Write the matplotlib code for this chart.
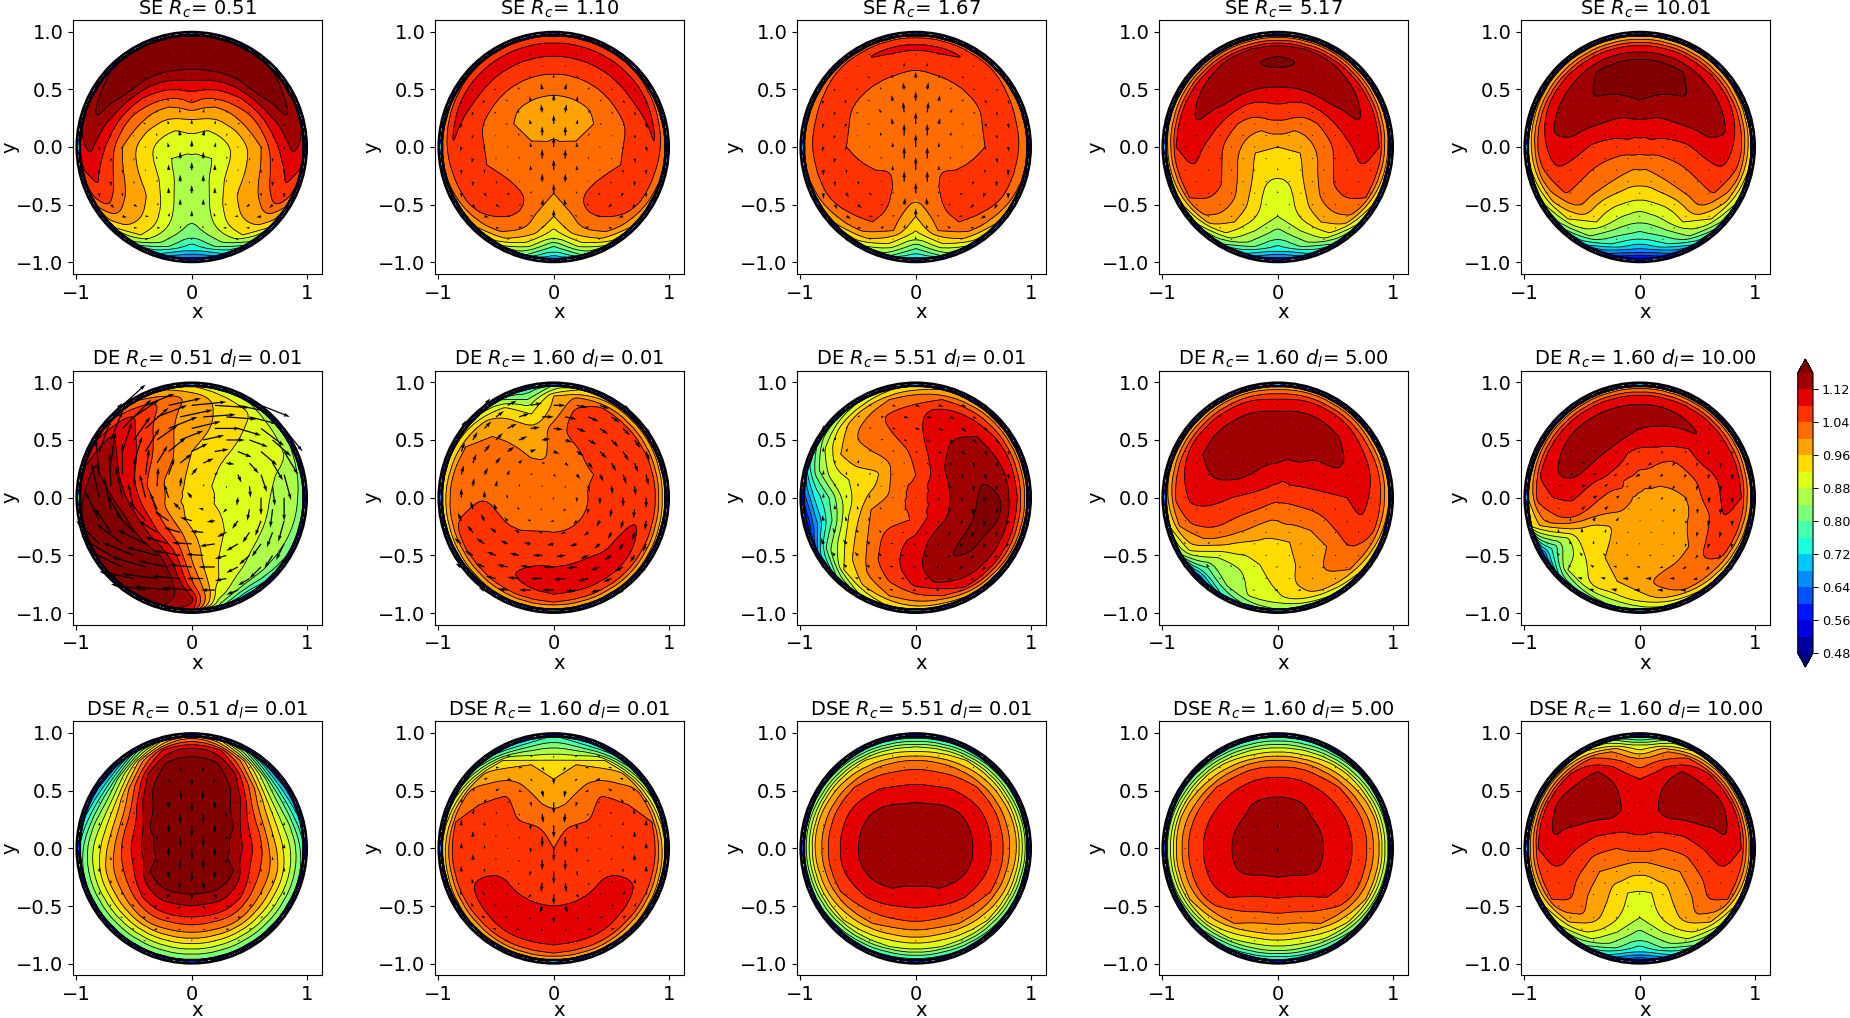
import numpy as np
import matplotlib
matplotlib.use('Agg')
import matplotlib.pyplot as plt
from matplotlib.patches import Circle
from matplotlib.path import Path

# temperature rings, in hundredths, radius 0.2 .. 0.97
# 13 columns: -90..90 deg, mirrored onto the left half
# 24 columns: the whole circle, counter-clockwise from the bottom
RADII = [0.2, 0.4, 0.6, 0.75, 0.88, 0.97]
RIM_RADIUS = 0.985
RIM_VALUE = 40
LEVELS = np.arange(0.48, 1.17, 0.04)

SE_051 = [[86,86,86,87,88,89,90,90,91,92,93,94,94],
          [85,86,90,92,93,93,93,95,97,98,100,102,105],
          [85,88,93,97,98,99,100,103,105,108,110,112,113],
          [81,87,95,98,103,106,108,111,115,118,118,119,119],
          [73,82,92,99,107,109,113,116,118,119,120,120,120],
          [62,70,82,93,102,107,111,113,114,116,117,117,117]]
SE_110 = [[102,102,102,102,102,101,101,100,99,98,98,98,98],
          [100,103,103,103,103,102,102,101,100,99,99,99,99],
          [96,100,105,106,105,104,104,103,103,103,103,103,103],
          [90,99,103,106,107,106,106,106,107,107,107,107,107],
          [78,90,99,103,105,106,108,109,110,110,110,110,110],
          [68,80,90,96,99,100,101,102,103,104,104,104,104]]
SE_167 = [[102,102,102,103,103,103,103,103,103,102,102,102,102],
          [101,102,104,105,104,103,103,103,102,102,102,102,102],
          [96,101,106,106,106,105,104,104,103,103,103,103,103],
          [91,100,104,106,106,106,106,106,106,106,106,106,105],
          [80,91,99,102,104,104,105,105,106,108,108,109,109],
          [70,82,90,95,99,100,101,101,102,103,103,103,103]]
SE_517 = [[93,93,93,94,95,96,97,98,99,100,102,103,103],
          [90,91,95,98,100,101,102,103,104,105,106,108,109],
          [88,92,97,102,105,107,107,109,111,113,114,114,114],
          [82,88,96,102,106,108,110,112,114,115,115,116,118],
          [74,82,91,99,104,106,108,109,110,111,112,112,113],
          [62,70,80,87,92,94,95,96,97,97,98,98,98]]
SE_1001 = [[100,100,101,102,103,105,106,107,109,110,110,111,111],
           [94,95,98,101,103,105,107,110,112,113,114,115,116],
           [86,89,93,100,104,107,111,113,115,116,117,118,118],
           [79,83,92,100,105,108,111,113,114,115,116,117,117],
           [68,75,85,92,98,103,105,107,108,108,109,109,109],
           [55,62,73,82,88,91,93,94,95,96,96,96,96]]

DE_051 = [[95,94,94,93,93,92,92,92,92,93,93,94,94,96,97,98,98,99,99,98,98,98,97,96],
          [98,95,93,92,91,90,90,90,91,91,94,95,96,99,101,102,103,104,106,107,108,107,106,103],
          [101,93,91,90,89,89,89,89,90,91,94,96,98,100,103,107,109,111,113,116,117,118,118,112],
          [105,93,89,87,87,87,87,88,90,91,93,96,98,101,105,109,112,114,118,119,119,119,119,118],
          [113,90,84,84,85,86,86,87,89,90,93,95,99,103,107,111,114,117,119,119,119,119,119,118],
          [110,82,72,78,80,81,82,83,84,86,88,90,92,96,100,104,108,112,115,117,118,118,118,116]]
DE_160 = [[103,103,103,103,103,103,103,103,103,103,102,102,102,102,102,102,102,102,102,102,102,102,102,103],
          [105,105,105,105,105,105,105,105,104,104,103,102,101,99,100,102,102,102,103,103,103,104,105,105],
          [108,108,108,107,107,106,106,106,106,106,106,105,102,97,99,101,102,103,104,105,106,106,107,108],
          [110,110,110,110,110,108,107,106,106,106,106,106,97,92,97,100,101,102,103,105,106,107,108,109],
          [107,107,107,107,106,105,105,105,105,105,105,102,96,84,94,98,100,102,103,104,104,105,106,107],
          [96,96,96,96,95,94,93,94,95,95,95,92,85,76,85,90,92,92,93,93,94,95,96,96]]
DE_551 = [[105,107,108,109,109,110,110,110,109,109,107,106,104,103,103,102,102,101,101,102,102,103,103,104],
          [110,112,114,114,114,114,114,114,114,113,110,108,105,103,101,98,95,95,97,100,102,104,107,108],
          [111,115,116,117,117,117,117,116,115,114,112,110,107,105,102,100,97,92,90,92,96,100,105,108],
          [109,113,115,115,115,116,116,115,113,112,112,111,106,105,103,100,96,90,80,80,90,97,102,105],
          [102,104,109,110,110,109,108,108,108,107,106,104,102,100,98,95,90,83,72,68,82,92,97,100],
          [94,94,96,97,98,98,98,98,98,98,97,96,93,91,88,86,82,74,62,56,70,80,88,92]]
DE_160_D5 = [[100,101,101,102,103,105,106,107,108,109,109,109,110,110,110,110,109,108,106,105,104,102,101,100],
             [95,96,98,100,102,105,107,109,110,111,113,113,114,114,114,114,113,111,108,106,103,100,97,95],
             [94,96,98,100,104,106,108,110,113,114,115,115,115,115,115,115,114,112,109,107,103,95,91,92],
             [93,97,100,102,105,108,109,110,111,112,113,113,112,113,113,113,112,111,109,106,99,87,86,90],
             [91,95,98,100,103,105,106,107,107,108,108,108,107,108,108,108,108,107,105,101,94,78,84,89],
             [84,86,88,91,93,95,96,97,97,98,98,98,97,98,98,97,97,96,95,92,85,65,76,82]]
DE_160_D10 = [[98,98,98,98,98,99,99,99,100,101,101,103,103,104,104,104,105,103,102,102,101,99,98,98],
              [98,98,99,99,99,99,100,101,102,103,105,107,107,108,110,110,109,107,105,103,97,95,97,98],
              [98,98,99,100,102,103,106,106,108,108,110,111,112,114,114,114,114,112,109,105,94,95,96,97],
              [98,102,102,104,106,108,109,109,110,112,113,114,114,114,114,114,113,112,108,103,85,89,95,96],
              [94,98,102,103,105,107,108,109,109,110,110,110,110,110,110,110,110,109,106,98,76,88,92,91],
              [86,89,91,93,94,95,96,97,98,98,98,98,98,98,98,98,98,97,96,92,64,78,82,84]]

DSE_051 = [[120,120,120,120,120,120,120,120,120,120,120,120,120],
           [116,116,117,117,117,113,114,114,117,118,118,118,118],
           [108,108,109,108,106,105,105,104,105,112,118,119,119],
           [99,99,100,99,98,98,95,93,94,101,112,118,119],
           [88,88,88,88,88,88,87,83,80,85,98,111,112],
           [80,80,80,80,80,80,78,72,68,66,78,92,100]]
DSE_160 = [[106,106,106,106,106,105,105,105,105,105,104,103,102],
           [107,107,107,107,107,106,106,106,105,103,101,100,99],
           [109,109,109,109,109,107,107,107,106,105,101,98,96],
           [110,110,110,110,109,107,107,106,104,101,99,96,93],
           [107,107,107,106,106,105,105,104,102,98,92,83,84],
           [97,97,97,96,95,94,93,90,86,80,74,72,77]]
DSE_551 = [[114,114,114,114,114,114,114,114,114,114,114,114,114],
           [111,111,112,113,114,114,114,114,114,114,113,112,112],
           [106,106,107,108,109,110,110,110,110,109,108,107,107],
           [98,98,100,102,104,105,105,105,105,104,103,102,102],
           [88,88,90,92,94,95,96,96,95,94,92,90,88],
           [75,75,77,79,80,81,82,82,80,79,77,75,75]]
DSE_160_D5 = [[113,113,113,114,114,115,115,115,115,115,115,115,115],
              [109,109,110,111,112,112,112,112,112,112,113,113,113],
              [103,103,105,108,109,109,109,109,109,109,109,109,109],
              [96,96,100,103,106,106,106,106,105,104,103,103,102],
              [86,86,89,93,96,97,97,97,95,93,91,88,88],
              [72,74,76,80,82,83,83,83,81,79,77,76,76]]
DSE_160_D10 = [[97,97,98,100,101,103,104,106,107,108,109,110,110],
               [91,92,95,97,100,103,105,108,110,113,113,111,110],
               [88,92,96,99,103,106,109,111,115,116,116,110,108],
               [82,88,96,102,106,108,111,113,115,113,113,107,101],
               [73,82,90,97,104,106,108,110,110,109,106,99,89],
               [60,70,80,87,92,94,94,94,94,94,92,85,74]]

CENTERS = {'SE_051': 89, 'SE_110': 101, 'SE_167': 102, 'SE_517': 96, 'SE_1001': 106,
           'DE_051': 94, 'DE_160': 102, 'DE_551': 106, 'DE_160_D5': 105, 'DE_160_D10': 99,
           'DSE_051': 120, 'DSE_160': 104, 'DSE_551': 114, 'DSE_160_D5': 114, 'DSE_160_D10': 105}

# velocity rows y = 0.8 .. -0.8, in hundredths of an axis unit
# 5 columns: x = 0 .. 0.8, mirrored; 9 columns: x = -0.8 .. 0.8
NO_FLOW_HALF = [[0]*5]*9
U_SE_051 = [[0,0,1,0,0],[0,1,1,1,0],[0,1,1,1,1],[0,1,2,1,1],[0,1,1,1,0],[0,0,0,0,0],[0,0,-1,0,0],[0,-1,-3,-4,-2],[0,-1,-3,-2,0]]
V_SE_051 = [[0,0,0,0,0],[1,1,0,0,0],[2,2,1,0,-1],[4,3,1,-1,-2],[6,4,0,-2,-3],[7,5,1,-3,-4],[7,5,0,-3,-4],[5,3,0,-1,-2],[1,1,1,1,0]]
U_SE_110 = [[0,0,0,0,0],[0,1,1,0,0],[0,1,2,2,0],[0,1,2,1,1],[0,0,0,1,1],[0,0,-1,0,0],[0,-1,-2,-2,0],[0,-2,-3,-4,-3],[0,-1,-2,-3,0]]
V_SE_110 = [[0,0,0,0,0],[3,2,1,-1,0],[6,4,1,-2,-3],[8,4,0,-2,-4],[9,4,0,-2,-4],[9,4,0,-3,-4],[8,2,-2,-3,-4],[6,1,0,-1,-2],[2,1,1,1,0]]
U_SE_167 = [[0,0,0,0,0],[0,1,2,1,0],[0,1,2,2,1],[0,1,2,2,1],[0,0,1,1,1],[0,0,-1,0,0],[0,-1,-2,-2,0],[0,-2,-3,-4,-3],[0,-1,-2,-3,0]]
V_SE_167 = [[1,0,0,0,0],[5,3,1,-1,0],[8,5,1,-2,-3],[10,5,0,-3,-4],[11,4,0,-3,-4],[11,4,-1,-3,-5],[9,2,-2,-4,-5],[7,1,0,-2,-2],[3,1,1,1,0]]
V_SE_517 = [[0,0,0,0,0],[0,0,0,0,0],[1,0,0,0,0],[1,1,0,0,0],[1,1,0,0,-1],[2,1,0,0,-1],[2,1,0,-1,-1],[2,1,0,-1,-1],[1,0,0,0,0]]
V_SE_1001 = [[0,0,0,0,0],[0,0,0,0,0],[0,0,0,0,0],[0,0,0,0,0],[1,0,0,0,0],[1,1,0,0,0],[1,1,0,0,0],[1,0,0,0,0],[0,0,0,0,0]]
U_DSE_051 = [[0,-1,-1,0,0],[0,-1,-2,-1,0],[0,0,-1,-1,0],[0,0,0,0,0],[0,0,0,0,0],[0,0,1,0,0],[0,2,2,1,0],[0,3,3,2,1],[0,1,2,1,0]]
V_DSE_051 = [[-1,-1,0,0,0],[-6,-4,-1,1,0],[-9,-6,-1,2,0],[-10,-7,-1,3,3],[-10,-7,-1,3,4],[-9,-6,0,3,4],[-5,-4,1,3,3],[-2,-1,1,1,1],[0,0,0,0,0]]
U_DSE_160 = [[0,-2,-3,-2,0],[0,-2,-4,-3,-1],[0,-1,-2,-2,-1],[0,0,0,0,0],[0,0,0,0,0],[0,1,1,0,0],[0,2,2,2,1],[0,2,3,3,2],[0,1,2,1,0]]
V_DSE_160 = [[-2,-1,0,0,0],[-5,-2,-1,1,0],[-10,-4,0,3,3],[-11,-4,0,3,5],[-11,-4,0,3,5],[-11,-4,0,3,5],[-9,-3,1,3,3],[-5,-2,1,2,2],[-1,0,0,0,0]]
V_DSE_551 = [[0,0,0,0,0],[0,0,0,0,0],[-1,0,0,0,0],[-1,-1,0,0,0],[-1,-1,0,0,0],[-1,-1,0,0,0],[-1,0,0,0,0],[0,0,0,0,0],[0,0,0,0,0]]
V_DSE_160_D5 = [[0,0,0,0,0],[0,0,0,0,0],[-2,-1,0,0,0],[-3,-2,0,0,0],[-3,-2,0,0,0],[-2,-1,0,0,0],[-1,-1,0,0,0],[0,0,0,0,0],[0,0,0,0,0]]
V_DSE_160_D10 = [[0,0,0,0,0],[0,0,0,0,0],[0,0,0,0,0],[1,0,0,0,0],[1,0,0,0,0],[1,1,0,0,0],[2,1,0,-1,-1],[2,1,0,-1,-1],[1,0,0,0,0]]

U_DE_051 = [[0,20,25,28,30,30,28,25,0],[20,25,20,25,25,22,20,20,16],[10,8,12,15,14,12,12,14,12],[-3,0,3,5,5,3,3,5,6],
            [-7,-6,-5,-4,-4,-2,-1,0,0],[-12,-13,-14,-12,-10,-7,-5,-5,-5],[-20,-22,-24,-20,-17,-13,-10,-8,-7],
            [0,-28,-30,-26,-20,-14,-10,-10,0],[0,0,-30,-30,-25,-12,-10,0,0]]
V_DE_051 = [[0,18,10,6,3,-2,-6,-10,0],[22,25,18,10,6,0,-6,-15,-20],[28,25,20,12,7,2,-5,-12,-20],[30,27,22,14,6,2,-7,-15,-22],
            [30,27,20,12,5,0,-7,-15,-20],[25,22,17,8,3,-1,-7,-13,-18],[20,17,12,6,1,-2,-6,-11,-14],
            [0,13,9,5,2,0,-5,-10,0],[0,0,5,3,2,0,-4,0,0]]
U_DE_160 = [[0,5,8,10,10,9,8,6,0],[4,6,8,8,8,8,7,6,4],[3,5,6,5,5,6,6,5,3],[2,3,2,2,2,3,3,3,2],[0,0,-1,-1,-1,0,0,0,0],
            [-3,-3,-3,-3,-3,-3,-3,-2,-1],[-6,-7,-6,-6,-6,-6,-5,-4,-3],[-5,-8,-9,-9,-9,-9,-8,-7,-5],[0,-5,-8,-10,-10,-10,-8,-5,0]]
V_DE_160 = [[0,6,4,2,0,-2,-3,-4,0],[7,6,4,1,-1,-3,-5,-6,-6],[8,6,4,2,-2,-4,-6,-8,-8],[8,6,4,1,-2,-4,-6,-8,-9],[8,6,3,1,-2,-4,-6,-8,-9],
            [7,6,3,1,-1,-3,-5,-7,-8],[5,5,3,1,-1,-2,-4,-6,-7],[3,3,2,1,0,-1,-3,-4,-5],[0,2,1,0,0,-1,-2,-3,0]]
U_DE_551 = [[0,1,2,3,4,4,4,3,0],[0,1,2,3,4,4,4,3,2],[0,1,1,2,2,3,3,2,1],[0,0,1,1,1,1,1,1,1],[0,0,0,0,0,0,0,-1,0],
            [-1,-1,-1,-1,-1,-1,-1,-1,-1],[-2,-3,-3,-2,-2,-2,-2,-2,-2],[-2,-3,-3,-3,-3,-3,-3,-3,-2],[0,-2,-3,-3,-3,-3,-3,-2,0]]
V_DE_551 = [[0,0,0,-1,-1,-1,-1,-2,0],[3,2,1,0,-1,-2,-3,-3,-2],[4,3,2,1,-1,-2,-3,-4,-3],[4,3,2,1,-1,-3,-4,-5,-4],[4,3,3,1,-1,-3,-4,-5,-4],
            [5,4,3,1,-1,-2,-4,-5,-4],[5,4,3,1,-1,-2,-3,-4,-3],[3,3,2,1,0,-1,-2,-3,-2],[0,2,1,1,0,0,-1,-1,0]]
U_DE_160_D5 = [[0,0,0,0,0,0,0,0,0],[0,0,0,0,0,0,0,0,0],[0,0,0,0,0,0,0,0,0],[0,0,0,1,1,1,0,0,0],[0,1,1,1,1,1,0,0,0],
               [0,1,1,1,1,0,0,0,0],[-1,1,1,0,0,0,-1,-1,0],[-2,-2,-1,-1,-2,-2,-2,-1,0],[0,-2,-2,-2,-3,-3,-2,-1,0]]
V_DE_160_D5 = [[0,0,0,0,0,0,0,0,0],[0,0,0,0,0,0,0,0,0],[1,0,0,0,0,0,0,-1,0],[1,0,0,0,0,0,-1,-1,-1],[1,1,1,0,0,-1,-1,-1,-1],
               [1,1,1,0,0,-1,-1,-2,-1],[2,2,1,1,0,-1,-1,-2,-1],[2,3,2,1,0,0,-1,-1,-1],[0,2,1,0,0,0,0,-1,0]]
U_DE_160_D10 = [[0,1,1,1,1,1,1,1,0],[1,1,1,2,2,1,1,1,1],[1,2,2,-1,-2,-2,-1,-1,0],[1,3,3,-3,-4,-3,-2,-1,0],[0,2,4,3,-2,-2,-1,0,0],
                [0,0,2,2,1,0,0,-1,0],[0,-1,0,0,0,-1,-1,-1,-1],[-1,-2,-3,-3,-3,-3,-3,-3,-1],[0,-1,-4,-5,-5,-5,-5,-3,0]]
V_DE_160_D10 = [[0,0,0,0,0,0,0,0,0],[0,0,0,0,-1,-1,-1,-2,-1],[1,1,1,-1,-1,-2,-2,-3,-3],[1,1,1,-1,-2,-2,-3,-4,-5],[0,1,2,2,-1,-2,-3,-5,-5],
                [0,3,4,3,1,-1,-3,-5,-5],[1,3,3,2,0,-1,-3,-4,-4],[2,2,2,1,0,-1,-2,-3,-3],[0,2,1,1,0,0,0,-1,0]]

# staggered velocity rows y = 0.7 .. -0.7
# 4 columns: x = 0.1 .. 0.7, mirrored; 8 columns: x = -0.7 .. 0.7
STILL_HALF = [[0]*4]*8
U2_SE_051 = [[0,1,1,0],[1,1,1,1],[1,1,1,1],[1,1,1,1],[0,1,0,0],[0,0,0,0],[0,-2,-3,-3],[-1,-3,-3,-2]]
V2_SE_051 = [[0,0,0,0],[1,1,0,0],[3,2,0,-1],[5,2,-1,-2],[6,2,-2,-3],[6,2,-2,-4],[5,1,-2,-3],[2,0,0,-1]]
U2_SE_110 = [[0,1,1,0],[1,1,2,1],[1,2,2,1],[0,1,1,1],[0,0,0,1],[0,-1,-1,0],[-1,-2,-3,-2],[-1,-3,-3,-2]]
V2_SE_110 = [[1,1,0,0],[5,2,0,-2],[7,2,-1,-3],[8,2,-1,-3],[8,2,-1,-4],[7,1,-2,-4],[5,0,-2,-3],[2,1,0,-1]]
V2_SE_167 = [[3,1,0,0],[6,2,0,-2],[9,3,-1,-3],[10,3,-1,-3],[10,2,-2,-4],[9,1,-3,-4],[6,0,-3,-4],[3,1,0,-1]]
U2_DSE_051 = [[-1,-2,-1,0],[-1,-1,-1,-1],[0,-1,0,0],[0,0,0,0],[0,0,0,0],[1,1,1,0],[2,3,2,1],[2,3,2,1]]
V2_DSE_051 = [[-4,-1,0,0],[-8,-2,1,1],[-9,-3,2,2],[-9,-3,2,3],[-8,-3,2,3],[-6,-2,2,3],[-3,0,2,2],[-1,0,1,1]]
U2_DSE_160 = [[-2,-3,-3,-1],[-1,-3,-3,-2],[-1,-1,-1,-1],[0,0,0,0],[0,0,0,0],[1,1,1,1],[2,2,2,2],[1,3,3,1]]
V2_DSE_160 = [[-3,0,0,0],[-6,-1,2,2],[-8,-2,2,4],[-9,-2,2,5],[-9,-2,2,5],[-8,-2,2,4],[-6,0,2,3],[-2,0,1,1]]
U2_DE_051 = [[20,22,26,28,28,26,24,22],[10,14,18,20,18,16,16,16],[4,7,9,10,9,7,8,9],[-1,1,1,1,1,0,1,2],
             [-6,-5,-6,-6,-4,-3,-2,-2],[-14,-16,-16,-14,-11,-8,-6,-5],[-24,-27,-26,-22,-15,-10,-9,-7],[-28,-30,-30,-24,-14,-10,-10,-7]]
V2_DE_051 = [[20,15,10,6,2,-2,-6,-14],[25,20,13,8,4,0,-6,-14],[27,23,15,8,4,-1,-9,-15],[28,24,16,8,2,-2,-10,-17],
             [27,22,14,6,1,-3,-10,-16],[21,17,10,4,1,-4,-9,-13],[14,11,7,4,1,-3,-8,-11],[6,6,4,2,0,-2,-6,-8]]
U2_DE_160 = [[4,7,9,10,10,9,7,5],[4,6,7,7,6,7,6,5],[3,4,3,3,3,4,4,3],[1,1,1,0,0,1,1,1],
             [-2,-2,-2,-2,-2,-1,-1,-1],[-5,-5,-4,-4,-4,-4,-3,-2],[-7,-8,-8,-8,-8,-7,-6,-4],[-6,-9,-10,-10,-10,-9,-7,-5]]
V2_DE_160 = [[7,5,3,0,-2,-4,-5,-5],[7,6,3,1,-2,-4,-6,-7],[8,5,3,0,-3,-5,-7,-8],[7,5,2,0,-2,-5,-7,-8],
             [7,5,2,0,-2,-4,-7,-8],[6,4,2,1,-1,-3,-6,-7],[4,3,2,0,-1,-3,-4,-6],[2,2,1,0,-1,-2,-3,-4]]
U2_DE_551 = [[1,2,3,4,4,4,3,2],[1,1,2,3,3,3,3,2],[0,1,1,1,2,2,1,1],[0,0,0,0,0,0,0,0],
             [0,-1,-1,-1,-1,-1,-1,0],[-2,-2,-2,-2,-2,-2,-2,-1],[-3,-3,-3,-3,-3,-3,-3,-2],[-2,-3,-3,-3,-3,-3,-3,-2]]
V2_DE_551 = [[2,1,0,-1,-1,-2,-2,-2],[3,2,1,-1,-2,-3,-3,-3],[3,3,1,0,-2,-3,-4,-4],[3,3,1,0,-2,-3,-5,-4],
             [4,3,2,0,-2,-3,-5,-4],[4,3,2,0,-1,-3,-4,-4],[3,3,2,0,-1,-2,-3,-3],[2,1,1,0,0,-1,-1,-1]]
U2_DE_160_D10 = [[1,1,1,1,1,1,1,1],[2,2,1,1,-1,-1,-1,1],[2,3,1,-2,-3,-2,-1,0],[2,4,3,-2,-3,-2,-1,0],
                 [0,3,3,1,-1,-1,0,0],[-1,0,1,0,0,-1,-1,-1],[-2,-2,-2,-2,-2,-2,-2,-2],[-2,-4,-4,-5,-5,-4,-4,-2]]
V2_DE_160_D10 = [[0,0,0,-1,-1,-1,-1,-1],[1,0,0,-1,-1,-2,-2,-2],[1,1,-1,-2,-2,-3,-3,-4],[1,1,2,-1,-2,-3,-4,-5],
                 [2,3,3,1,-1,-3,-4,-5],[3,4,3,1,0,-2,-4,-5],[3,3,2,1,0,-1,-3,-4],[2,1,1,0,0,0,-1,-2]]

TITLES = ['SE $R_c$= 0.51', 'SE $R_c$= 1.10', 'SE $R_c$= 1.67', 'SE $R_c$= 5.17', 'SE $R_c$= 10.01',
          'DE $R_c$= 0.51 $d_l$= 0.01', 'DE $R_c$= 1.60 $d_l$= 0.01', 'DE $R_c$= 5.51 $d_l$= 0.01',
          'DE $R_c$= 1.60 $d_l$= 5.00', 'DE $R_c$= 1.60 $d_l$= 10.00',
          'DSE $R_c$= 0.51 $d_l$= 0.01', 'DSE $R_c$= 1.60 $d_l$= 0.01', 'DSE $R_c$= 5.51 $d_l$= 0.01',
          'DSE $R_c$= 1.60 $d_l$= 5.00', 'DSE $R_c$= 1.60 $d_l$= 10.00']

PANELS = [('SE_051', SE_051, U_SE_051, V_SE_051, U2_SE_051, V2_SE_051),
          ('SE_110', SE_110, U_SE_110, V_SE_110, U2_SE_110, V2_SE_110),
          ('SE_167', SE_167, U_SE_167, V_SE_167, U2_SE_110, V2_SE_167),
          ('SE_517', SE_517, NO_FLOW_HALF, V_SE_517, STILL_HALF, STILL_HALF),
          ('SE_1001', SE_1001, NO_FLOW_HALF, V_SE_1001, STILL_HALF, STILL_HALF),
          ('DE_051', DE_051, U_DE_051, V_DE_051, U2_DE_051, V2_DE_051),
          ('DE_160', DE_160, U_DE_160, V_DE_160, U2_DE_160, V2_DE_160),
          ('DE_551', DE_551, U_DE_551, V_DE_551, U2_DE_551, V2_DE_551),
          ('DE_160_D5', DE_160_D5, U_DE_160_D5, V_DE_160_D5, STILL_HALF, STILL_HALF),
          ('DE_160_D10', DE_160_D10, U_DE_160_D10, V_DE_160_D10, U2_DE_160_D10, V2_DE_160_D10),
          ('DSE_051', DSE_051, U_DSE_051, V_DSE_051, U2_DSE_051, V2_DSE_051),
          ('DSE_160', DSE_160, U_DSE_160, V_DSE_160, U2_DSE_160, V2_DSE_160),
          ('DSE_551', DSE_551, NO_FLOW_HALF, V_DSE_551, STILL_HALF, STILL_HALF),
          ('DSE_160_D5', DSE_160_D5, NO_FLOW_HALF, V_DSE_160_D5, STILL_HALF, STILL_HALF),
          ('DSE_160_D10', DSE_160_D10, NO_FLOW_HALF, V_DSE_160_D10, STILL_HALF, STILL_HALF)]


def polar_field(rows, center):
    rows = np.array(rows, dtype=float)
    if rows.shape[1] == 13:
        rows = np.hstack([rows, rows[:, 11:0:-1]])
    rows = np.hstack([rows, rows[:, :1]])
    n = rows.shape[1]
    z = np.vstack([np.full(n, center), rows, np.full(n, RIM_VALUE)]) / 100
    r = np.array([0] + RADII + [RIM_RADIUS])
    th = np.deg2rad(-90 + 15 * np.arange(n))
    return np.outer(r, np.cos(th)), np.outer(r, np.sin(th)), z


def flow_rows(u, v):
    u = np.array(u, dtype=float)
    v = np.array(v, dtype=float)
    n = u.shape[1]
    if n == 5:
        u = np.hstack([-u[:, :0:-1], u])
        v = np.hstack([v[:, :0:-1], v])
    elif n == 4:
        u = np.hstack([-u[:, ::-1], u])
        v = np.hstack([v[:, ::-1], v])
    return u / 100, v / 100


def rounded_path(path):
    # polygon corners become quadratic curves through the edge midpoints
    if len(path.vertices) < 3:
        return path
    starts = np.flatnonzero(path.codes == Path.MOVETO).tolist() + [len(path.vertices)]
    verts, codes = [], []
    for a, b in zip(starts[:-1], starts[1:]):
        pts = path.vertices[a:b]
        closed = path.codes[b - 1] == Path.CLOSEPOLY or np.allclose(pts[0], pts[-1])
        if closed:
            pts = pts[:-1]
        if len(pts) < 3:
            verts.extend(path.vertices[a:b])
            codes.extend(path.codes[a:b])
            continue
        if closed:
            mids = (pts + np.roll(pts, -1, axis=0)) / 2
            verts.append(mids[-1])
            codes.append(Path.MOVETO)
            for p, m in zip(pts, mids):
                verts.extend([p, m])
                codes.extend([Path.CURVE3, Path.CURVE3])
            verts.append(mids[-1])
            codes.append(Path.CLOSEPOLY)
        else:
            mids = (pts[:-1] + pts[1:]) / 2
            verts.extend([pts[0], mids[0]])
            codes.extend([Path.MOVETO, Path.LINETO])
            for p, m in zip(pts[1:-1], mids[1:]):
                verts.extend([p, m])
                codes.extend([Path.CURVE3, Path.CURVE3])
            verts.append(pts[-1])
            codes.append(Path.LINETO)
    return Path(np.array(verts), codes)


def round_contours(cs):
    paths = cs.get_paths()
    for k in range(len(paths)):
        paths[k] = rounded_path(paths[k])


W, H = 1850, 1018
fig = plt.figure(figsize=(W / 100, H / 100), dpi=100)
lefts = [73, 435, 797, 1159, 1521]
tops = [20, 370.7, 721.4]
grid = np.linspace(-0.8, 0.8, 9)
qx, qy = np.meshgrid(grid, grid[::-1])
grid2 = np.linspace(-0.7, 0.7, 8)
qx2, qy2 = np.meshgrid(grid2, grid2[::-1])

for i, (name, rows, u, v, u2, v2) in enumerate(PANELS):
    left = lefts[i % 5]
    top = tops[i // 5]
    ax = fig.add_axes([left / W, 1 - (top + 254) / H, 249 / W, 254 / H])
    X, Y, Z = polar_field(rows, CENTERS[name])
    # plain fill underneath keeps the seam column free of gaps
    ax.contourf(X, Y, Z, levels=LEVELS, cmap='jet', extend='both')
    cf = ax.contourf(X, Y, Z, levels=LEVELS, cmap='jet', extend='both')
    round_contours(cf)
    lines = ax.contour(X, Y, Z, levels=LEVELS, colors='k', linewidths=0.6)
    round_contours(lines)

    uu, vv = flow_rows(u, v)
    inside = qx**2 + qy**2 < 1.01
    ax.quiver(qx[inside], qy[inside], uu[inside], vv[inside], angles='xy', scale_units='xy', scale=1,
              width=0.005, zorder=3)
    uu2, vv2 = flow_rows(u2, v2)
    inside2 = qx2**2 + qy2**2 < 0.95
    ax.quiver(qx2[inside2], qy2[inside2], uu2[inside2], vv2[inside2], angles='xy', scale_units='xy', scale=1,
              width=0.005, zorder=3)

    ax.add_patch(Circle((0, 0), 0.995, fill=False, edgecolor='k', linewidth=2, zorder=4))
    ax.set_xlim(-1.028, 1.128)
    ax.set_ylim(-1.1, 1.1)
    ax.set_xticks([-1, 0, 1])
    ax.set_yticks([-1, -0.5, 0, 0.5, 1])
    ax.tick_params(labelsize=14)
    # the bottom row sits close to the figure edge
    ax.set_xlabel('x', fontsize=14, labelpad=-2 if i >= 10 else 0.5)
    ax.set_ylabel('y', fontsize=14, labelpad=-2.5)
    ax.set_title(TITLES[i], fontsize=14, pad=4)

cax = fig.add_axes([1797.7 / W, 1 - 667 / H, 15.3 / W, 308 / H])
cb = fig.colorbar(cf, cax=cax, ticks=LEVELS[::2], format='%.2f')
cb.ax.tick_params(labelsize=9.2, pad=2.8)

fig.savefig('out.png', dpi=100)
